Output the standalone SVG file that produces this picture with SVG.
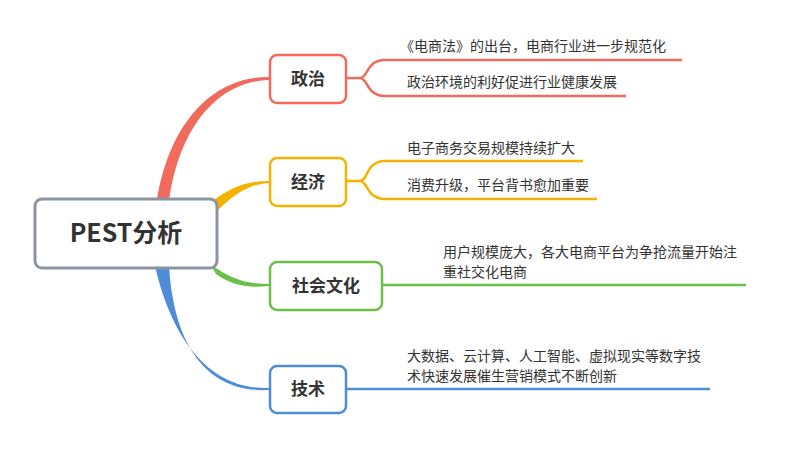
<svg xmlns="http://www.w3.org/2000/svg" width="812" height="458" viewBox="0 0 812 458">
<style>
text{font-family:"Noto Sans CJK SC","Liberation Sans",sans-serif;fill:#333}
.leaf{font-size:14px}
.t{font-size:17px;font-weight:bold;text-anchor:middle}
.box{fill:#fff;stroke-width:2.5}
.ln{fill:none;stroke-width:2.5}
</style>
<rect width="812" height="458" fill="#fff"/>
<g id="connectors">
<path d="M157,200 C170,120 215,76 269,77 L269,80 C220,81 180,124 169,200 Z" fill="#f06b5c"/>
<path d="M210,203 C232,186 248,181 269,181 L269,183 C250,184 236,193 218,210 Z" fill="#f5b300"/>
<path d="M210,264 C232,280 248,284 269,284 L269,286 C250,288 232,286 216,274 Z" fill="#6cc04a"/>
<path d="M155,266 C172,340 210,390 269,388 L269,390 C206,393 174,345 169,266 Z" fill="#4f8cd8"/>
<path class="ln" stroke="#f06b5c" d="M346,78 H360 C368,78 366,60 385,60 H682 M360,78 C368,78 366,96 385,96 H626"/>
<path class="ln" stroke="#f5b300" d="M346,181 H360 C368,181 366,161 385,161 H583 M360,181 C368,181 366,199 385,199 H597"/>
<path class="ln" stroke="#6cc04a" d="M382,285 H746"/>
<path class="ln" stroke="#4f8cd8" d="M346,389 H710"/>
</g>
<g id="center"><rect x="35" y="199" width="182" height="69" rx="7" fill="#fff" stroke="#8c93a3" stroke-width="3"/><text x="126" y="242" style="font-size:25px;font-weight:bold;text-anchor:middle">PEST分析</text></g>
<g id="n1"><rect class="box" x="270" y="55" width="76" height="48" rx="7" stroke="#f06b5c"/><text class="t" x="308" y="85">政治</text></g>
<g id="n2"><rect class="box" x="270" y="158" width="76" height="48" rx="7" stroke="#f5b300"/><text class="t" x="308" y="188">经济</text></g>
<g id="n3"><rect class="box" x="270" y="262" width="112" height="48" rx="7" stroke="#6cc04a"/><text class="t" x="326" y="292">社会文化</text></g>
<g id="n4"><rect class="box" x="270" y="366" width="76" height="47" rx="7" stroke="#4f8cd8"/><text class="t" x="308" y="395">技术</text></g>
<g id="leaves">
<text class="leaf" x="400" y="51">《电商法》的出台，电商行业进一步规范化</text>
<text class="leaf" x="407" y="87">政治环境的利好促进行业健康发展</text>
<text class="leaf" x="407" y="153">电子商务交易规模持续扩大</text>
<text class="leaf" x="407" y="190">消费升级，平台背书愈加重要</text>
<text class="leaf" x="443" y="257">用户规模庞大，各大电商平台为争抢流量开始注</text>
<text class="leaf" x="443" y="277">重社交化电商</text>
<text class="leaf" x="407" y="361">大数据、云计算、人工智能、虚拟现实等数字技</text>
<text class="leaf" x="407" y="381">术快速发展催生营销模式不断创新</text>
</g>
</svg>
